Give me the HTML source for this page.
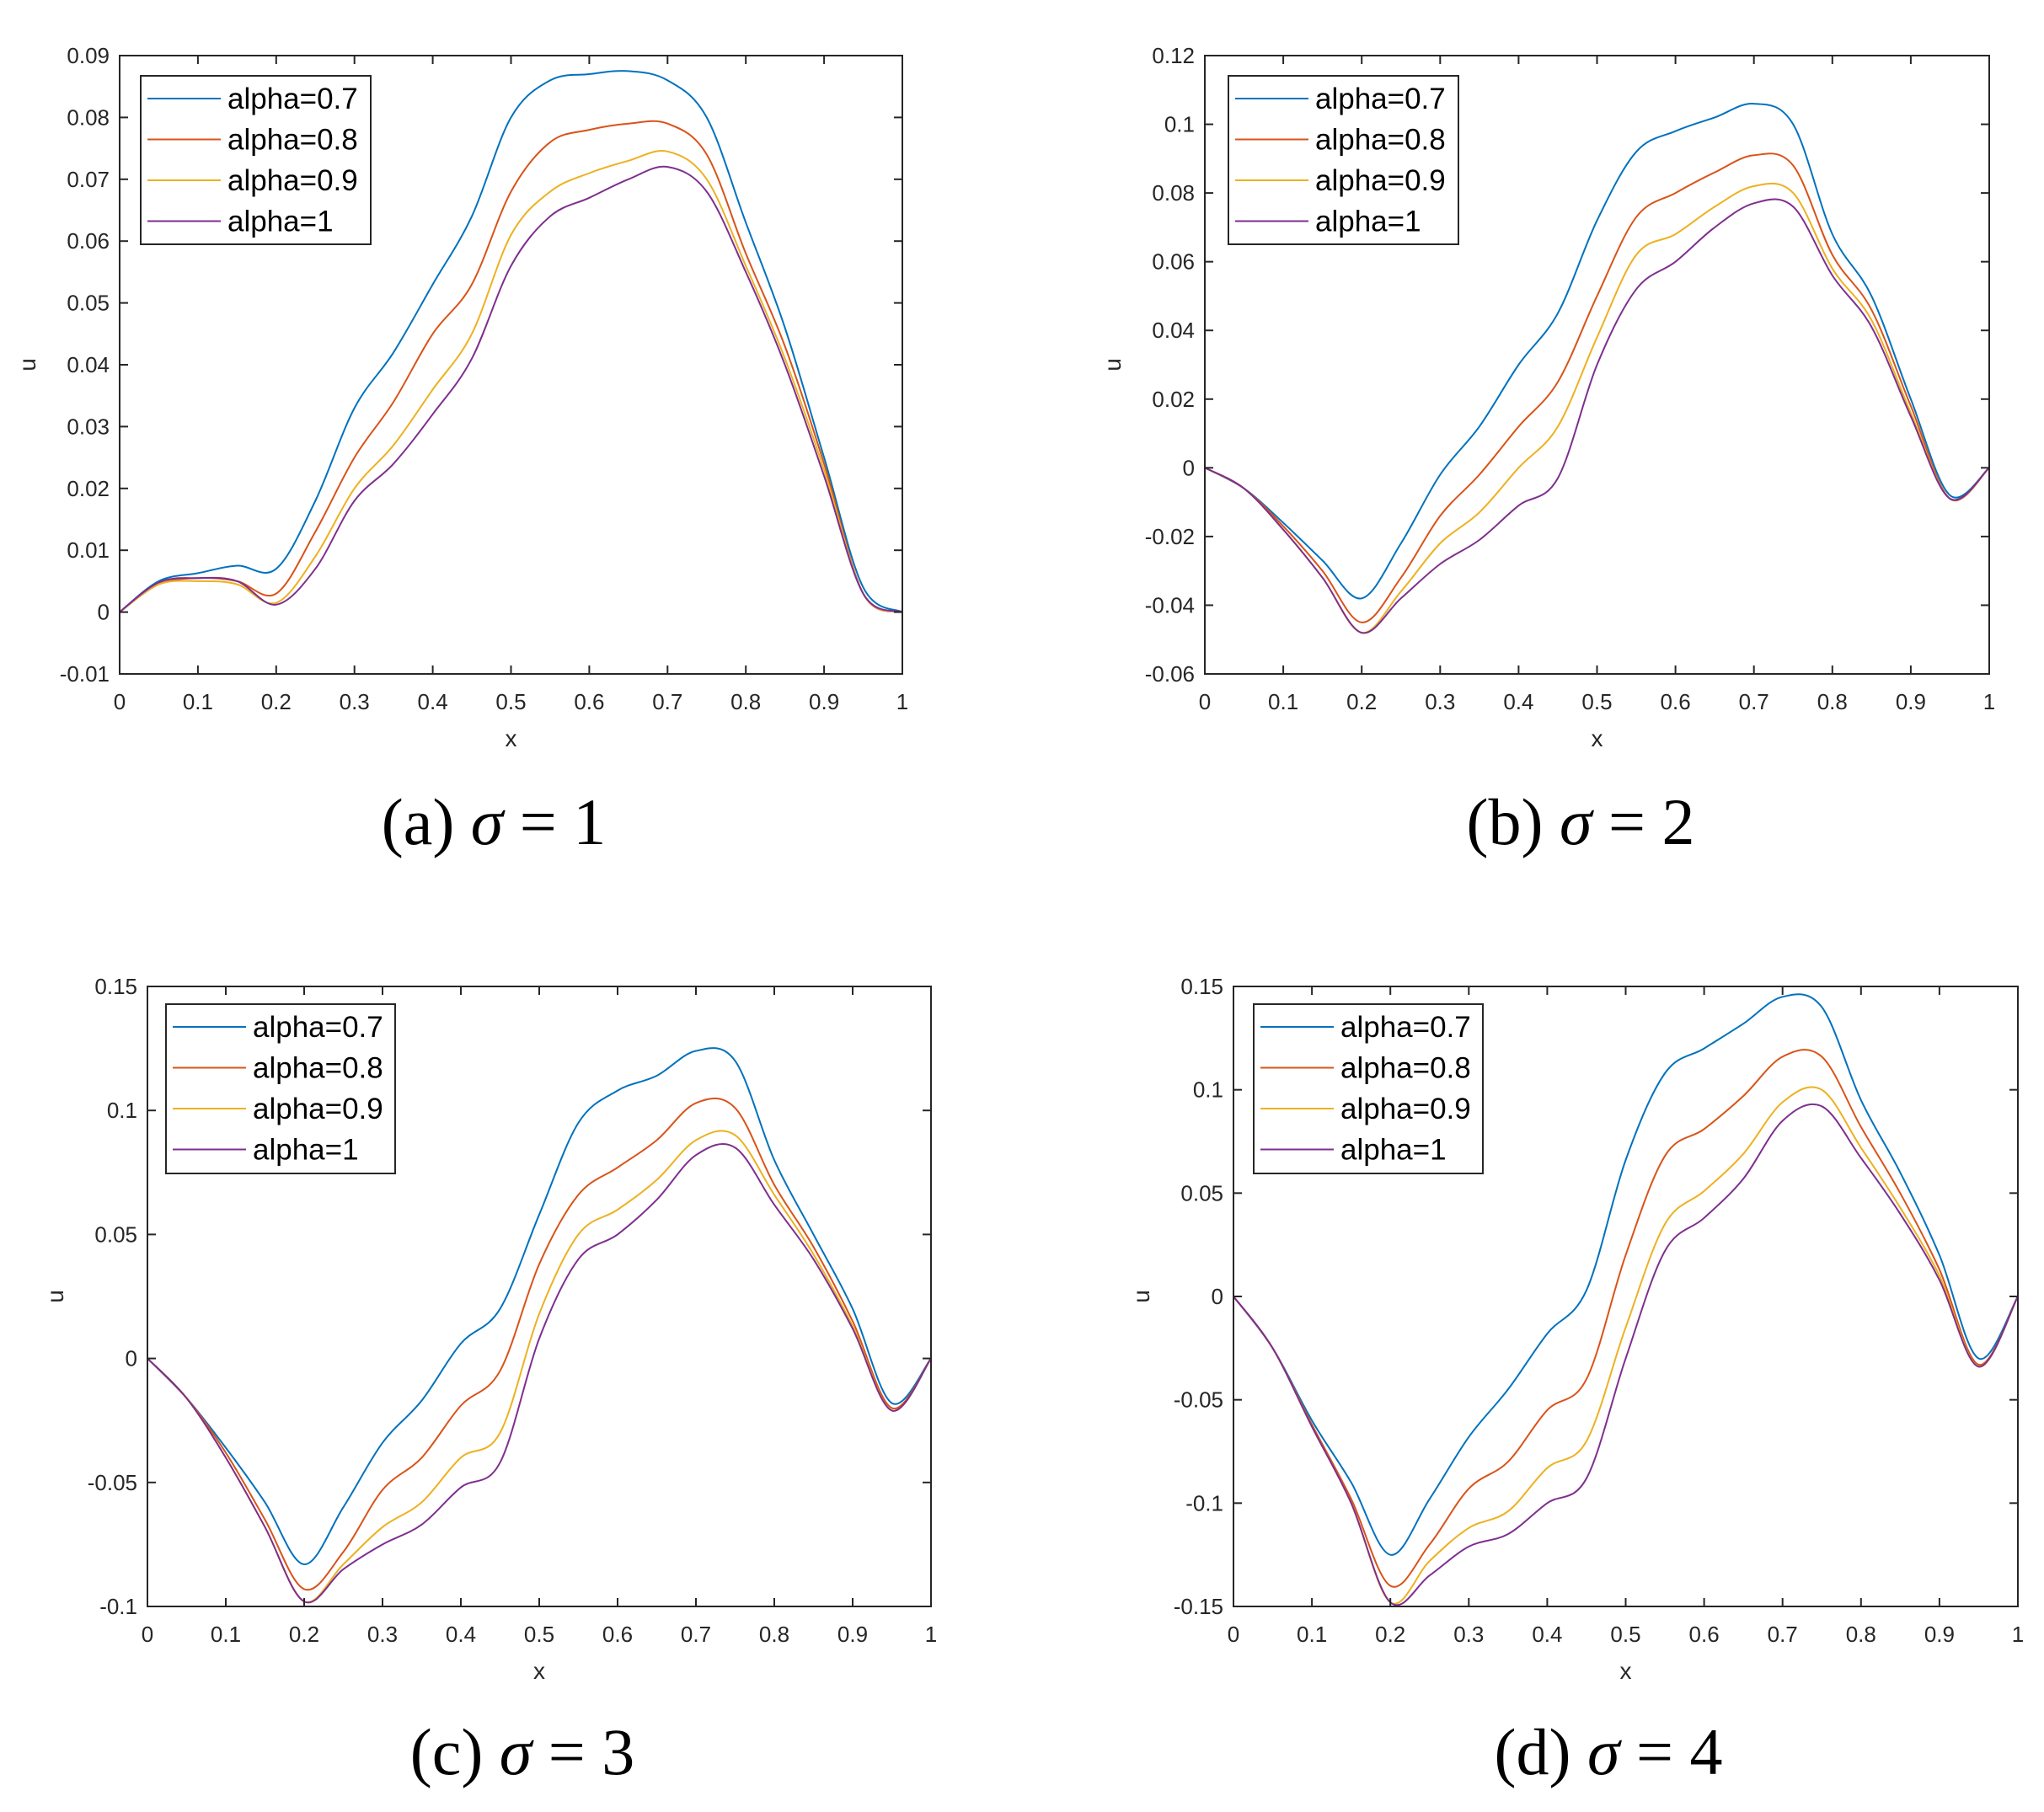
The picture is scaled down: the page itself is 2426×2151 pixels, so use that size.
<!DOCTYPE html>
<html><head><meta charset="utf-8"><style>
html,body{margin:0;padding:0;background:#fff}
svg text{font-family:"Liberation Sans",sans-serif}
</style></head><body>
<svg id="fig" width="2426" height="2146" viewBox="0 0 2426 2146" xmlns="http://www.w3.org/2000/svg"></svg>
<script>
const xs = [0,0.05,0.1,0.15,0.2,0.25,0.3,0.35,0.4,0.45,0.5,0.55,0.6,0.65,0.7,0.75,0.8,0.85,0.9,0.95,1];
const seriesNames = ["alpha=0.7","alpha=0.8","alpha=0.9","alpha=1"];
const colors = ["#0072BD","#D95319","#EDB120","#7E2F8E"];
const xTicks = [0,0.1,0.2,0.3,0.4,0.5,0.6,0.7,0.8,0.9,1];
const xTickLabels = ["0","0.1","0.2","0.3","0.4","0.5","0.6","0.7","0.8","0.9","1"];

const a07 = [0,0.005,0.0063,0.0075,0.007,0.018,0.033,0.042,0.053,0.064,0.08,0.086,0.087,0.0875,0.086,0.08,0.063,0.046,0.025,0.004,0];
const a08 = [0,0.0045,0.0055,0.005,0.003,0.013,0.025,0.034,0.045,0.053,0.068,0.076,0.078,0.079,0.079,0.074,0.058,0.043,0.024,0.003,0];
const a09 = [0,0.0045,0.005,0.0045,0.0015,0.009,0.02,0.027,0.036,0.045,0.061,0.068,0.071,0.073,0.0745,0.07,0.056,0.041,0.023,0.003,0];
const a10 = [0,0.0048,0.0055,0.005,0.0012,0.007,0.018,0.024,0.032,0.041,0.056,0.064,0.067,0.07,0.072,0.068,0.055,0.04,0.022,0.003,0];
const aTicks = [-0.01,0,0.01,0.02,0.03,0.04,0.05,0.06,0.07,0.08,0.09];
const aTickLabels = ["-0.01","0","0.01","0.02","0.03","0.04","0.05","0.06","0.07","0.08","0.09"];

const b07 = [0,-0.006,-0.016,-0.027,-0.038,-0.022,-0.002,0.012,0.03,0.045,0.072,0.092,0.098,0.102,0.106,0.1,0.068,0.05,0.02,-0.008,0];
const b08 = [0,-0.006,-0.017,-0.03,-0.045,-0.032,-0.014,-0.002,0.012,0.025,0.05,0.073,0.08,0.086,0.091,0.088,0.062,0.046,0.018,-0.009,0];
const b09 = [0,-0.006,-0.018,-0.032,-0.048,-0.036,-0.022,-0.013,0.0,0.012,0.038,0.062,0.068,0.076,0.082,0.08,0.058,0.043,0.016,-0.009,0];
const b10 = [0,-0.006,-0.018,-0.032,-0.048,-0.038,-0.028,-0.021,-0.011,-0.003,0.03,0.052,0.06,0.07,0.077,0.076,0.056,0.041,0.015,-0.009,0];
const bTicks = [-0.06,-0.04,-0.02,0,0.02,0.04,0.06,0.08,0.1,0.12];
const bTickLabels = ["-0.06","-0.04","-0.02","0","0.02","0.04","0.06","0.08","0.1","0.12"];

const c07 = [0,-0.016,-0.036,-0.058,-0.083,-0.06,-0.034,-0.017,0.006,0.02,0.058,0.095,0.108,0.114,0.124,0.12,0.08,0.05,0.02,-0.018,0];
const c08 = [0,-0.016,-0.038,-0.065,-0.093,-0.078,-0.053,-0.04,-0.019,-0.005,0.038,0.066,0.077,0.088,0.103,0.101,0.07,0.045,0.015,-0.02,0];
const c09 = [0,-0.016,-0.04,-0.068,-0.098,-0.083,-0.068,-0.058,-0.04,-0.03,0.018,0.05,0.06,0.072,0.088,0.09,0.066,0.042,0.013,-0.021,0];
const c10 = [0,-0.016,-0.04,-0.068,-0.098,-0.085,-0.075,-0.067,-0.052,-0.042,0.008,0.04,0.05,0.064,0.082,0.085,0.062,0.04,0.012,-0.021,0];
const cTicks = [-0.1,-0.05,0,0.05,0.1,0.15];
const cTickLabels = ["-0.1","-0.05","0","0.05","0.1","0.15"];

const d07 = [0,-0.025,-0.06,-0.09,-0.125,-0.098,-0.068,-0.045,-0.018,0.003,0.066,0.108,0.12,0.132,0.145,0.14,0.095,0.06,0.02,-0.03,0];
const d08 = [0,-0.025,-0.062,-0.098,-0.14,-0.12,-0.093,-0.08,-0.055,-0.04,0.02,0.068,0.081,0.097,0.116,0.116,0.082,0.05,0.013,-0.033,0];
const d09 = [0,-0.025,-0.063,-0.1,-0.148,-0.128,-0.112,-0.104,-0.083,-0.07,-0.015,0.035,0.051,0.069,0.094,0.1,0.072,0.043,0.01,-0.034,0];
const d10 = [0,-0.025,-0.063,-0.1,-0.148,-0.135,-0.121,-0.115,-0.1,-0.088,-0.03,0.022,0.038,0.057,0.085,0.092,0.067,0.04,0.008,-0.034,0];
const dTicks = [-0.15,-0.1,-0.05,0,0.05,0.1,0.15];
const dTickLabels = ["-0.15","-0.1","-0.05","0","0.05","0.1","0.15"];

const NS = "http://www.w3.org/2000/svg";
const svg = document.getElementById('fig');
function mk(tag, attrs, parent){ const e=document.createElementNS(NS,tag); for(const k in attrs) e.setAttribute(k,attrs[k]); (parent||svg).appendChild(e); return e; }

function smoothPath(pts){
  let d = "M"+pts[0][0].toFixed(1)+","+pts[0][1].toFixed(1);
  for(let i=0;i<pts.length-1;i++){
    const p0=pts[Math.max(0,i-1)], p1=pts[i], p2=pts[i+1], p3=pts[Math.min(pts.length-1,i+2)];
    const c1x=p1[0]+(p2[0]-p0[0])/6, c1y=p1[1]+(p2[1]-p0[1])/6;
    const c2x=p2[0]-(p3[0]-p1[0])/6, c2y=p2[1]-(p3[1]-p1[1])/6;
    d+=" C"+c1x.toFixed(1)+","+c1y.toFixed(1)+" "+c2x.toFixed(1)+","+c2y.toFixed(1)+" "+p2[0].toFixed(1)+","+p2[1].toFixed(1);
  }
  return d;
}

function panel(id, L, R, T, B, ymin, ymax, yTicks, yLabels, data, leg, capX, capY, capLetter, sigma){
  const g = mk('g', {});
  
  
  const sx = v => L + (v-0)/(1-0)*(R-L);
  const sy = v => B - (v-ymin)/(ymax-ymin)*(B-T);
  data.forEach((arr, si) => {
    const pts = xs.map((x,i)=>[sx(x), sy(arr[i])]);
    const p = mk('path', {d: smoothPath(pts), fill:'none', stroke: colors[si], 'stroke-width': 2}, g);
    
    
  });
  const box = mk('rect', {x:L, y:T, width:R-L, height:B-T, fill:'none', stroke:'#262626', 'stroke-width':2}, g);
  
  
  xTicks.forEach((t,i)=>{
    const x = sx(t);
    mk('line', {x1:x, y1:B, x2:x, y2:B-10, stroke:'#262626', 'stroke-width':2}, g);
    mk('line', {x1:x, y1:T, x2:x, y2:T+10, stroke:'#262626', 'stroke-width':2}, g);
    const tx = mk('text', {x:x, y:B+42, 'text-anchor':'middle', 'font-size':26, fill:'#262626'}, g);
    tx.textContent = xTickLabels[i];
    
    
  });
  yTicks.forEach((t,i)=>{
    const y = sy(t);
    mk('line', {x1:L, y1:y, x2:L+10, y2:y, stroke:'#262626', 'stroke-width':2}, g);
    mk('line', {x1:R, y1:y, x2:R-10, y2:y, stroke:'#262626', 'stroke-width':2}, g);
    const tx = mk('text', {x:L-12, y:y+9, 'text-anchor':'end', 'font-size':26, fill:'#262626'}, g);
    tx.textContent = yLabels[i];
    
    
  });
  const xl = mk('text', {x:(L+R)/2, y:B+86, 'text-anchor':'middle', 'font-size':28, fill:'#262626'}, g);
  xl.textContent = 'x';
  
  
  const yx = L-100, yy=(T+B)/2;
  const yl = mk('text', {x:yx, y:yy, 'text-anchor':'middle', 'font-size':28, fill:'#262626', transform:'rotate(-90 '+yx+' '+yy+')'}, g);
  yl.textContent = 'u';
  
  
  const lg = mk('g', {}, g);
  
  
  mk('rect', {x:leg[0], y:leg[1], width:leg[2]-leg[0], height:leg[3]-leg[1], fill:'#fff', stroke:'#262626', 'stroke-width':2}, lg);
  seriesNames.forEach((n,si)=>{
    const ry = leg[1]+27+si*48.5;
    const e = mk('g', {}, lg);
    
    
    mk('line', {x1:leg[0]+8, y1:ry, x2:leg[0]+95, y2:ry, stroke:colors[si], 'stroke-width':2}, e);
    const t = mk('text', {x:leg[0]+103, y:ry+12, 'font-size':35, fill:'#000'}, e);
    t.textContent = n;
  });
  const cap = mk('text', {x:capX, y:capY, 'text-anchor':'middle', 'font-size':78, fill:'#000', style:'font-family:"Liberation Serif",serif'}, g);
  
  
  cap.innerHTML = '('+capLetter+') <tspan font-style="italic">σ</tspan> = '+sigma;
}

panel('a', 142, 1071, 66, 800, -0.01, 0.09, aTicks, aTickLabels, [a07,a08,a09,a10], [167,90,440,290], 586, 1002, 'a', 1);
panel('b', 1430, 2361, 66, 800, -0.06, 0.12, bTicks, bTickLabels, [b07,b08,b09,b10], [1458,90,1731,290], 1876, 1002, 'b', 2);
panel('c', 175, 1105, 1171, 1907, -0.1, 0.15, cTicks, cTickLabels, [c07,c08,c09,c10], [197,1192,469,1393], 620, 2106, 'c', 3);
panel('d', 1464, 2395, 1171, 1907, -0.15, 0.15, dTicks, dTickLabels, [d07,d08,d09,d10], [1488,1192,1760,1393], 1909, 2106, 'd', 4);
</script>
</body></html>
